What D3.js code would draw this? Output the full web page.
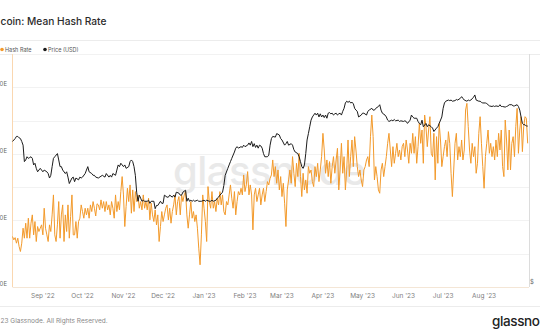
<!DOCTYPE html>
<html>
<head>
<meta charset="utf-8">
<script src="https://cdn.jsdelivr.net/npm/d3@7"></script>
<style>
  html, body { margin: 0; padding: 0; background: #fff; overflow: hidden; }
  svg { display: block; font-family: Inter, "Noto Sans", sans-serif; }
</style>
</head>
<body>
<svg id="chart" width="540" height="336"></svg>
<script>
// Daily series start date; hashRate holds one reading per day from here.
const seriesStart = "2022-08-09";

// Mean hash rate, EH/s (daily).
const hashRate = [
  211,205,209,199,208,193,184,199,226,208,235,208,244,208,235,250,214,238,202,229,
  220,226,232,214,262,226,214,202,232,220,250,286,214,202,232,274,208,250,268,202,
  250,220,268,208,247,286,214,214,238,208,238,244,268,256,244,262,250,262,244,268,
  256,274,262,248,270,
  268,259,277,262,274,256,274,259,268,250,274,262,244,286,256,274,259,292,319,286,
  229,265,298,274,304,253,295,256,292,274,286,262,274,259,286,262,274,259,280,241,
  271,250,238,259,232,250,202,229,256,238,250,262,268,241,262,235,256,268,286,250,
  274,283,250,286,274,286,
  292,250,226,250,274,244,256,238,250,226,190,160,214,286,262,238,202,301,274,262,
  292,262,274,256,280,268,292,268,286,256,250,274,268,286,304,280,262,292,250,274,
  292,286,298,286,322,292,304,328,286,304,286,223,286,298,274,286,298,268,286,298,
  274,292,310,304,316,322,
  349,319,337,307,331,295,319,283,307,271,229,295,313,331,307,355,325,301,343,319,
  361,319,283,325,295,313,289,337,325,331,310,301,337,319,343,310,331,355,397,367,
  325,349,319,346,307,337,355,325,349,370,295,331,379,325,355,295,331,385,319,355,
  385,337,391,367,337,
  319,331,313,301,331,337,349,355,337,391,430,391,313,337,319,295,289,331,343,319,
  337,355,379,397,367,337,373,343,361,379,355,367,349,373,379,355,385,367,343,379,
  361,397,361,391,343,373,415,379,403,343,430,409,373,403,427,361,355,397,313,391,
  343,415,385,337,355,373,
  385,355,400,379,325,283,331,379,397,349,373,355,385,349,367,439,451,409,367,343,
  379,355,373,325,343,397,427,379,337,298,355,379,403,361,379,355,373,349,385,355,
  397,367,403,337,319,421,385,331,403,331,379,391,355,409,442,361,403,427,364,409,
  427,424,379
];

// BTC price (USD), sampled on these day offsets from seriesStart.
const priceDay = [
  0,2,3,4,5,6,7,8,9,10,11,12,13,14,15,16,17,18,19,21,22,23,24,26,27,28,29,30,31,32,
  34,35,36,37,38,40,41,42,43,45,46,47,48,50,51,52,53,55,56,57,58,60,61,62,63,65,
  68,70,71,73,74,75,76,78,79,80,81,82,83,84,85,86,88,89,90,91,92,93,94,95,96,97,98,99,
  100,102,103,104,105,107,108,109,110,112,113,114,115,117,118,119,121,122,123,124,126,127,128,129,131,
  132,133,134,135,136,137,138,140,141,142,143,145,146,147,149,150,151,152,154,155,156,157,159,160,
  161,163,164,165,166,168,169,170,171,173,174,175,176,178,179,180,181,182,183,184,185,186,187,188,
  189,190,191,192,193,194,195,196,197,
  199,200,202,203,204,206,207,208,209,211,212,213,214,216,217,218,219,220,221,222,223,224,225,226,
  227,228,229,230,231,232,233,234,235,236,237,238,239,240,241,242,243,244,245,246,247,248,249,250,
  251,252,253,254,255,256,257,258,259,260,261,262,
  264,265,266,268,269,270,272,273,274,275,277,278,279,280,282,283,284,285,287,288,289,290,292,293,
  294,296,297,298,299,301,302,303,304,306,307,308,309,310,311,313,314,315,317,318,319,321,322,323,
  325,326,327,328,
  330,331,332,333,335,336,337,339,340,341,342,344,345,346,347,349,350,351,353,354,355,356,358,359,
  360,361,363,364,365,366,368,369,370,371,373,374,375,376,378,379,380,382,383,384,385,386,387,388,389,390
];
const priceUsd = [
  23400,23800,24100,24100,23900,23800,23400,22900,20800,21000,21400,21200,21300,21400,21200,20400,20600,20000,19600,20000,19800,19600,19800,19600,19400,18900,19200,20200,21200,21400,
  21800,21000,20200,20200,19800,19400,19600,19000,18300,18900,19000,18500,18900,18700,19000,18900,19000,19400,19800,20200,19600,19400,19200,19200,19000,18900,
  19200,19000,19400,19000,19200,19000,19400,19200,19800,20400,20200,20600,20400,20200,20400,20000,20200,20800,21000,20800,20200,19200,17400,16500,17100,16800,16500,16600,
  16500,16500,16600,16300,16500,16500,15800,16100,16100,16500,16300,16300,17100,16900,16900,17100,16900,17100,16900,17400,17300,17100,17100,17400,17600,
  16500,16800,16500,16600,16500,16600,16500,16600,16500,16500,16500,16600,16500,16600,16500,16500,16600,16500,16600,16800,16900,17100,17400,18100,
  19200,20000,20400,20800,21200,22000,22500,22700,22500,22700,22600,22900,22700,22900,23200,22900,23400,22700,23100,22600,22900,22500,22900,22800,
  22500,21800,21400,21400,21400,21600,22900,23800,24100,
  24000,24500,24300,23800,23600,22900,23100,23400,22900,23100,22900,22300,22000,21800,21400,20800,20200,20000,20400,21800,23600,24500,25500,26500,
  27000,27300,27600,27300,27600,27000,27500,27000,27300,26900,27300,26800,27600,27700,27500,27600,27300,27500,27600,27300,27500,27600,27300,27900,
  28400,29300,29600,29400,29600,29300,29400,29200,28400,28100,27900,27000,
  27300,27600,27600,27300,27900,28100,28400,28100,28100,28400,28700,29000,28100,27600,27300,27000,26500,26300,26500,26400,26600,26400,26500,26300,
  26400,26300,26400,26300,26000,26500,27300,27000,26800,26800,26300,26000,25800,26500,25500,26000,25500,25800,25500,25300,24800,25300,25500,26000,
  27000,28400,29300,29600,
  29800,29700,29800,29600,29700,29900,29800,30100,30400,30100,29800,29600,29800,29700,29800,30300,30700,29800,29600,29600,29400,29300,29300,29200,
  29000,28800,28700,28800,28700,28800,28700,29000,28700,28700,28600,28700,28800,29000,29000,28800,28800,29000,28700,28100,27000,26000,25800,25800,25600,25600
];

// Axis labels (left labels show their visible tail only: the panel edge trims them)
const hashTicks = [120, 240, 360, 480];
const hashTickText = ["0E", "0E", "0E", "0E"];
const hashGrid = [180, 240, 300, 360, 420, 480, 540];
const monthTicks = ["2022-09-01","2022-10-01","2022-11-01","2022-12-01","2023-01-01","2023-02-01",
                    "2023-03-01","2023-04-01","2023-05-01","2023-06-01","2023-07-01","2023-08-01"];

const svg = d3.select("#chart");
const parse = d3.utcParse("%Y-%m-%d");
const t0 = parse(seriesStart);
const day = i => d3.utcDay.offset(t0, i);

const x = d3.scaleUtc()
  .domain([t0, parse("2023-09-04")])
  .range([12.5, 529]);
const yHash = d3.scaleLinear().domain([120, 540]).range([287, 54]);
const yPrice = d3.scaleLog().domain([10000, 39000]).range([287, 54]);

// Header
svg.append("text").attr("x", 0.5).attr("y", 25)
  .attr("font-size", 10.2).attr("font-weight", 500).attr("fill", "#2b2b2b")
  .text("coin: Mean Hash Rate");
svg.append("line").attr("x1", 0).attr("x2", 540).attr("y1", 40.5).attr("y2", 40.5)
  .attr("stroke", "#ececec");

// Legend
const legend = [
  { label: "Hash Rate", color: "#f39a2b", x: 2 },
  { label: "Price (USD)", color: "#1a1a1a", x: 45 }
];
legend.forEach(l => {
  svg.append("circle").attr("cx", l.x).attr("cy", 49.5).attr("r", 1.8).attr("fill", l.color);
  svg.append("text").attr("x", l.x + 3).attr("y", 51.5)
    .attr("font-size", 5.5).attr("fill", "#555").text(l.label);
});
svg.append("line").attr("x1", 0).attr("x2", 540).attr("y1", 54.5).attr("y2", 54.5)
  .attr("stroke", "#ececec");

// Gridlines
svg.append("g").selectAll("line").data(hashGrid).join("line")
  .attr("x1", 12.5).attr("x2", 529)
  .attr("y1", d => Math.round(yHash(d)) + 0.5).attr("y2", d => Math.round(yHash(d)) + 0.5)
  .attr("stroke", "#f2f2f2");

// Watermark
svg.append("text").attr("x", 173).attr("y", 185)
  .attr("font-size", 40).attr("font-weight", 500).attr("fill", "#e9e9e9")
  .attr("letter-spacing", -0.5)
  .text("glassnode");

// Axes frame
svg.append("line").attr("x1", 12.5).attr("x2", 12.5).attr("y1", 54).attr("y2", 287)
  .attr("stroke", "#fad7b0");
svg.append("line").attr("x1", 12.5).attr("x2", 529).attr("y1", 287.5).attr("y2", 287.5)
  .attr("stroke", "#f4e6d6");
svg.append("line").attr("x1", 529.5).attr("x2", 529.5).attr("y1", 54).attr("y2", 287)
  .attr("stroke", "#dcdcdc");

// Left (hash rate) labels
svg.append("g").selectAll("text").data(hashTicks).join("text")
  .attr("x", 7).attr("y", d => yHash(d) - 3).attr("dy", "0.35em")
  .attr("text-anchor", "end").attr("font-size", 6).attr("fill", "#666")
  .text((d, i) => hashTickText[i]);

// Right (price) label
svg.append("text").attr("x", 530).attr("y", 282).attr("dy", "0.35em")
  .attr("font-size", 6).attr("fill", "#666").text("$");

// Month labels
const fmt = d3.utcFormat("%b '%y");
svg.append("g").selectAll("text").data(monthTicks.map(parse)).join("text")
  .attr("x", d => x(d)).attr("y", 298)
  .attr("text-anchor", "middle").attr("font-size", 6.5).attr("fill", "#808080")
  .text(d => fmt(d));

// Hash rate line
const hashLine = d3.line()
  .x((d, i) => x(day(i)))
  .y(d => yHash(d));
svg.append("path").datum(hashRate)
  .attr("d", hashLine)
  .attr("fill", "none").attr("stroke", "#f39a2b").attr("stroke-width", 1)
  .attr("stroke-linejoin", "round");

// Price line
const priceData = priceDay.map((d, i) => ({ t: day(d), v: priceUsd[i] }));
const priceLine = d3.line().x(d => x(d.t)).y(d => yPrice(d.v));
svg.append("path").datum(priceData)
  .attr("d", priceLine)
  .attr("fill", "none").attr("stroke", "#1c1c1c").attr("stroke-width", 1)
  .attr("stroke-linejoin", "round");

// Footer
svg.append("line").attr("x1", 0).attr("x2", 540).attr("y1", 306.5).attr("y2", 306.5)
  .attr("stroke", "#ececec");
svg.append("text").attr("x", 0.5).attr("y", 323)
  .attr("font-size", 6.5).attr("fill", "#888")
  .text("23 Glassnode. All Rights Reserved.");
svg.append("text").attr("x", 539.5).attr("y", 326)
  .attr("text-anchor", "end")
  .attr("font-size", 13.5).attr("font-weight", 500).attr("fill", "#222")
  .attr("letter-spacing", -0.4)
  .text("glassno");
</script>
</body>
</html>
